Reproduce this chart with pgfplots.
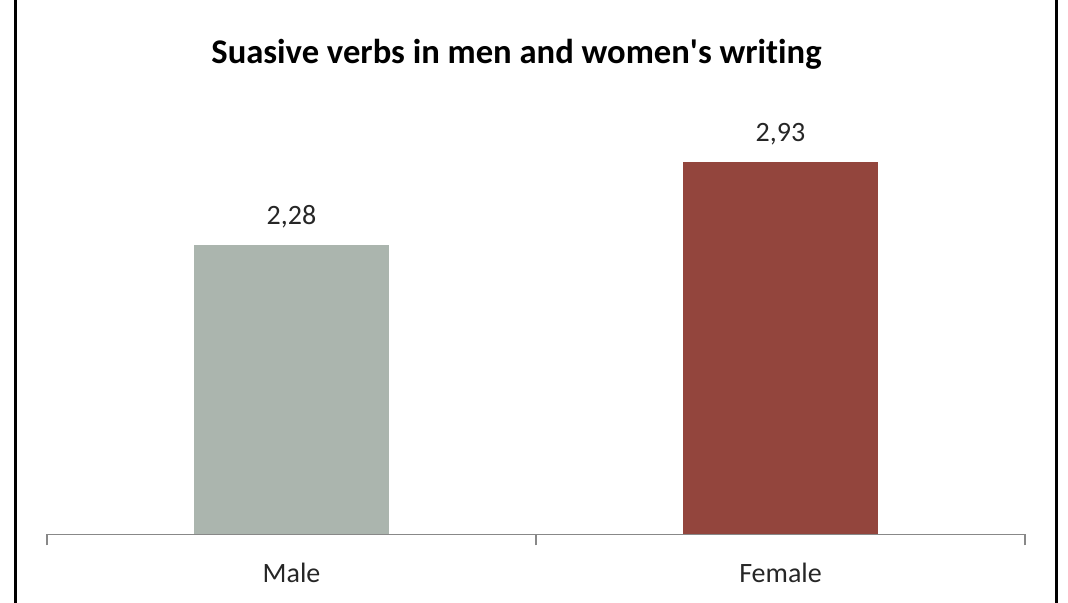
\documentclass[border=0pt]{standalone}
\usepackage{pgfplots}
\pgfplotsset{compat=1.18}
\usepackage{fontspec}
\setmainfont{Carlito}[Ligatures={NoCommon}]
\definecolor{malegray}{RGB}{171,181,174}
\definecolor{femalered}{RGB}{147,69,61}
\definecolor{axgray}{RGB}{136,136,136}
\begin{document}
\begin{tikzpicture}[x=1pt,y=1pt]
\path[use as bounding box] (0,0) rectangle (534,301.5);
\draw[black,line width=1.5pt] (7.5,-1) -- (7.5,302.5);
\draw[black,line width=1.5pt] (528.3,-1) -- (528.3,302.5);
\node[font=\fontsize{17.3}{21}\selectfont\bfseries] at (258.25,274.5) {Suasive verbs in men and women\textquotesingle s writing};
\begin{axis}[
  at={(23.5pt,34.25pt)}, anchor=south west,
  scale only axis, width=489pt, height=222.25pt,
  xmin=-0.5, xmax=1.5, ymin=0, ymax=3.5,
  axis x line*=bottom, axis y line=none,
  x axis line style={axgray, line width=0.6pt, -},
  xtick={0,1}, xticklabels={Male,Female},
  major tick length=0pt,
  minor xtick={-0.5,0.5,1.5},
  minor tick length=5.5pt,
  xtick align=outside,
  every minor tick/.style={axgray, line width=0.6pt},
  xticklabel style={font=\fontsize{14}{16}\selectfont, anchor=center, yshift=-19.25pt, text=black!85},
  ybar, bar width=0.4, bar shift=0pt,
  point meta=explicit symbolic,
  nodes near coords,
  every node near coord/.append style={font=\fontsize{14}{16}\selectfont, anchor=center, yshift=14pt, text=black!85},
  clip=false,
]
\addplot[fill=malegray, draw=none] coordinates {(0,2.28) [2,28]};
\addplot[fill=femalered, draw=none] coordinates {(1,2.93) [2,93]};
\end{axis}
\end{tikzpicture}
\end{document}
